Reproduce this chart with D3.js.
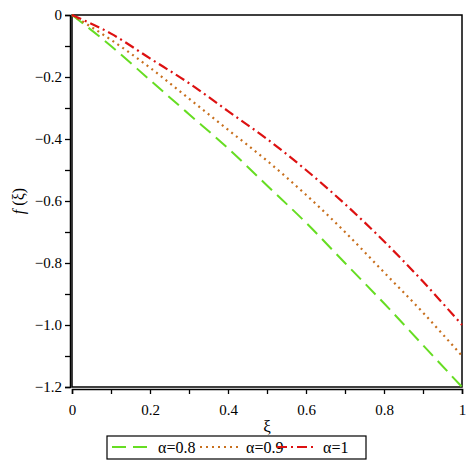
<!DOCTYPE html>
<html><head><meta charset="utf-8">
<script src="https://cdn.jsdelivr.net/npm/d3@7"></script>
<style>body{margin:0;background:#fff}</style>
</head><body><svg id="c" width="474" height="474"></svg>
<script>
var xs = [0, 0.1, 0.2, 0.3, 0.4, 0.5, 0.6, 0.7, 0.8, 0.9, 1];
var f08 = [0, -0.10, -0.21, -0.32, -0.43, -0.55, -0.67, -0.80, -0.93, -1.065, -1.2];
var f09 = [0, -0.08, -0.17, -0.27, -0.37, -0.47, -0.58, -0.70, -0.83, -0.96, -1.1];
var f1 = [0, -0.06, -0.14, -0.22, -0.31, -0.40, -0.50, -0.61, -0.73, -0.86, -1.0];
var xTicks = [0, 0.2, 0.4, 0.6, 0.8, 1];
var yTicks = [0, -0.2, -0.4, -0.6, -0.8, -1.0, -1.2];
var series = [
  {name: 'α=0.8', vals: f08, color: '#66dd22', dash: '14,7', w: 2},
  {name: 'α=0.9', vals: f09, color: '#c8701e', dash: '2,4', w: 2.2},
  {name: 'α=1', vals: f1, color: '#dd1111', dash: '10,4,2,4', w: 2.2}
];
var FONT = '"Liberation Serif","Times New Roman",serif';

var svg = d3.select('#c');
var L = 72, R = 462, T = 15, B = 387;
var x = d3.scaleLinear().domain([0, 1]).range([L, R]);
var y = d3.scaleLinear().domain([0, -1.2]).range([T, B]);

svg.append('rect').attr('x', L).attr('y', T).attr('width', R - L).attr('height', B - T)
  .attr('fill', 'none').attr('stroke', '#000').attr('stroke-width', 1.5);

var xa = svg.append('g').attr('transform', 'translate(0,' + (B + 2) + ')')
  .call(d3.axisBottom(x).tickValues(d3.range(0, 1.001, 0.1)).tickSize(5)
    .tickFormat(d => xTicks.some(t => Math.abs(t - d) < 1e-6) ? d3.format('~g')(d) : ''));
var ya = svg.append('g').attr('transform', 'translate(' + (L - 2) + ',0)')
  .call(d3.axisLeft(y).tickValues(d3.range(0, -1.201, -0.1)).tickSize(5)
    .tickFormat(d => yTicks.some(t => Math.abs(t - d) < 1e-6) ? (Math.abs(d) < 1e-9 ? '0' : '−' + d3.format('.1f')(-d)) : ''));
[xa, ya].forEach(a => {
  a.attr('font-family', FONT);
  a.select('.domain').attr('stroke-width', 1.5);
  a.selectAll('line').attr('stroke-width', 1.3);
  a.selectAll('text').attr('font-size', 15).attr('fill', '#000');
});
xa.selectAll('text').attr('dy', '1.2em');

var line = d3.line().x((d, i) => x(xs[i])).y(d => y(d)).curve(d3.curveMonotoneX);
series.forEach(s => {
  svg.append('path').attr('d', line(s.vals))
    .attr('fill', 'none').attr('stroke', s.color).attr('stroke-width', s.w)
    .attr('stroke-dasharray', s.dash);
});

svg.append('text').attr('x', (L + R) / 2).attr('y', 432).attr('text-anchor', 'middle')
  .attr('font-family', FONT).attr('font-size', 17).text('ξ');
svg.append('text').attr('transform', 'translate(24,' + (T + B) / 2 + ') rotate(-90)')
  .attr('text-anchor', 'middle').attr('font-family', FONT).attr('font-size', 16)
  .html('<tspan font-style="italic">f</tspan> (ξ)');

var lg = svg.append('g').attr('font-family', FONT);
lg.append('rect').attr('x', 107).attr('y', 436).attr('width', 259).attr('height', 23)
  .attr('fill', '#fff').attr('stroke', '#000').attr('stroke-width', 1.2);
var lx = [112, 200, 277];
series.forEach((s, i) => {
  lg.append('line').attr('x1', lx[i]).attr('x2', lx[i] + 40).attr('y1', 447).attr('y2', 447)
    .attr('stroke', s.color).attr('stroke-width', s.w).attr('stroke-dasharray', s.dash);
  lg.append('text').attr('x', lx[i] + 46).attr('y', 453).attr('font-size', 16).text(s.name);
});
</script></body></html>
